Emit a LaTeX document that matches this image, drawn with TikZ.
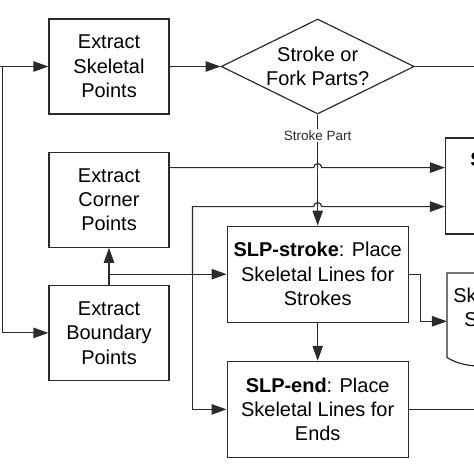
\documentclass[tikz,border=0pt]{standalone}
\usepackage{fontspec}
\setmainfont{Liberation Sans}
\usetikzlibrary{positioning,arrows.meta,calc,shapes.geometric}
\definecolor{linea}{HTML}{2B2B2B}

\begin{document}
\begin{tikzpicture}[
      box/.style={draw=linea,line width=0.85pt,minimum width=3cm,minimum height=2.375cm,
                  align=center,inner sep=2pt,font=\fontsize{14.2}{17.4}\selectfont},
      slp/.style={box,minimum width=4.525cm,minimum height=2.4cm},
      decision/.style={box,diamond,aspect=2.03,inner sep=0pt,minimum width=4.825cm,minimum height=2.375cm},
      fl/.style={-{Triangle[length=3.75mm,width=2.6mm]},line width=0.85pt,linea},
      ln/.style={line width=0.85pt,linea},
      txt/.style={anchor=base west,inner sep=0pt,font=\fontsize{14.2}{17.4}\selectfont},
      node distance=0.925cm]
    \path[use as bounding box,clip] (0,0) rectangle (11.85,-11.85);
    \node[box] (skel) at (2.725,-1.6625) {Extract\\Skeletal\\Points};
    \node[box,below=of skel] (corner) {Extract\\Corner\\Points};
    \node[box,below=of corner] (bound) {Extract\\Boundary\\Points};
    \node[decision,right=1.275cm of skel] (decide) {Stroke or\\Fork Parts?};
    \node[slp,below=2.775cm of decide] (stroke) {\textbf{SLP-stroke}: Place\\Skeletal Lines for\\Strokes};
    \node[slp,below=0.95cm of stroke] (end) {\textbf{SLP-end}: Place\\Skeletal Lines for\\Ends};
    \node[slp,anchor=west] (fork) at (11.125,-4.65) {};
    \node[txt,font=\fontsize{14.2}{17.4}\selectfont\bfseries] (forkt) at (11.75,-4.17) {S};
    \node[anchor=north west,minimum width=4.525cm,minimum height=2.4cm] (doc) at (11.175,-6.825) {};
    \draw[ln] ($(doc.south west)+(0,0.3)$) |- (doc.north east) -- ($(doc.south east)+(0,0.3)$)
         .. controls ($(doc.south east)+(-1.15,0.85)$) and ($(doc.south west)+(1.125,-0.4)$) .. ($(doc.south west)+(0,0.3)$) -- cycle;
    \node[txt] (docta) at (11.325,-7.55) {Sk};
    \node[txt] (doctb) at (11.6,-8.15) {S};
    \coordinate (inL) at ([xshift=-1.425cm]skel.west);
    \coordinate (split) at ([xshift=-1.15cm]skel.west);
    \coordinate (c1) at ($(corner.north east)+(0,-0.4)$);
    \coordinate (jn) at ($(stroke.west)+(-0.85,0)$);
    \coordinate (c2) at ($(stroke.north)+(0,0.475)$);
    \draw[fl] (inL) -- (skel.west);
    \draw[fl] (split) |- (bound.west);
    \draw[fl] (skel) -- (decide);
    \draw[ln] (decide.east) -- ++(2,0);
    \draw[fl] (decide) -- node[pos=0.19,fill=white,inner sep=1pt,font=\fontsize{9.6}{11}\selectfont] (part) {Stroke Part} (stroke);
    \draw[fl] (c1) -- ($(decide.south |- c1)+(-0.1,0)$) arc[start angle=180,end angle=0,radius=0.1] -- (fork.west |- c1);
    \draw[fl] (bound) -- (corner);
    \draw[fl] (bound.north |- stroke.west) -- (stroke.west);
    \draw[fl] (jn) |- ($(decide.south |- c2)+(-0.1,0)$) arc[start angle=180,end angle=0,radius=0.1] -- (fork.west |- c2);
    \draw[fl] (jn) |- (end.west);
    \draw[fl] (stroke) -- (end);
    \draw[fl] (stroke.east) -- ++(0.3,0) |- (doc.west);
    \draw[ln] (end.east) -- ++(2,0);
  \end{tikzpicture}
\end{document}
